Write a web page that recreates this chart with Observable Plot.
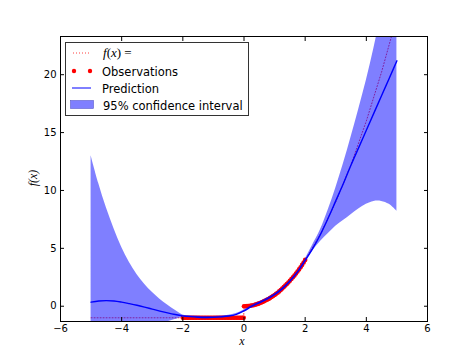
<!DOCTYPE html>
<html>
<head>
<meta charset="utf-8">
<script src="https://cdn.jsdelivr.net/npm/d3@7"></script>
<script src="https://cdn.jsdelivr.net/npm/@observablehq/plot@0.6"></script>
<style>
  html, body { margin: 0; padding: 0; background: white; }
  #wrap { position: relative; width: 474px; height: 357px; }
  #wrap svg { display: block; }
  .ov { position: absolute; left: 0; top: 0; pointer-events: none; }
</style>
</head>
<body>
<div id="wrap"></div>
<script>
// ---- data ----
const xTicks = [-6, -4, -2, 0, 2, 4, 6];
const yTicks = [0, 5, 10, 15, 20];

// true function f(x) (dotted)
const fX = [-5, -4, -3, -2, -1, -0.01, 0, 0.5, 1, 1.5, 2, 2.5, 3, 3.5, 4, 4.5, 5];
const fY = [-1, -1, -1, -1, -1, -1, 0, 0.25, 1, 2.25, 4, 6.25, 9, 12.25, 16, 20.25, 25];

// observations
const obsX = [-2, -1.95, -1.9, -1.85, -1.8, -1.75, -1.7, -1.65, -1.6, -1.55, -1.5, -1.45, -1.4, -1.35, -1.3, -1.25, -1.2, -1.15, -1.1, -1.05, -1, -0.95, -0.9, -0.85, -0.8, -0.75, -0.7, -0.65, -0.6, -0.55, -0.5, -0.45, -0.4, -0.35, -0.3, -0.25, -0.2, -0.15, -0.1, -0.05, -0.01,
  0, 0.05, 0.1, 0.15, 0.2, 0.25, 0.3, 0.35, 0.4, 0.45, 0.5, 0.55, 0.6, 0.65, 0.7, 0.75, 0.8, 0.85, 0.9, 0.95, 1, 1.05, 1.1, 1.15, 1.2, 1.25, 1.3, 1.35, 1.4, 1.45, 1.5, 1.55, 1.6, 1.65, 1.7, 1.75, 1.8, 1.85, 1.9, 1.95, 2];
const obsY = [-1, -1, -1, -1, -1, -1, -1, -1, -1, -1, -1, -1, -1, -1, -1, -1, -1, -1, -1, -1, -1, -1, -1, -1, -1, -1, -1, -1, -1, -1, -1, -1, -1, -1, -1, -1, -1, -1, -1, -1, -1,
  0, 0, 0.01, 0.02, 0.04, 0.06, 0.09, 0.12, 0.16, 0.2, 0.25, 0.3, 0.36, 0.42, 0.49, 0.56, 0.62, 0.7, 0.79, 0.88, 0.97, 1.07, 1.17, 1.28, 1.4, 1.52, 1.65, 1.78, 1.91, 2.05, 2.2, 2.35, 2.5, 2.66, 2.83, 3.0, 3.18, 3.37, 3.57, 3.78, 4.0];

// prediction and 95% band
const gridX = [-5, -4.75, -4.5, -4.25, -4, -3.75, -3.5, -3.25, -3, -2.75, -2.5, -2.25, -2, -1.75, -1.5, -1.25, -1, -0.75, -0.5, -0.25, 0, 0.25, 0.5, 0.75, 1, 1.25, 1.5, 1.75, 2, 2.25, 2.5, 2.75, 3, 3.25, 3.5, 3.75, 4, 4.25, 4.5, 4.75, 5];
const predY = [0.35, 0.45, 0.48, 0.45, 0.35, 0.22, 0.08, -0.08, -0.25, -0.42, -0.58, -0.72, -0.83, -0.9, -0.95, -0.97, -0.96, -0.92, -0.85, -0.7, -0.4, -0.02, 0.3, 0.62, 1.0, 1.5, 2.15, 2.95, 3.95, 5.0, 6.2, 7.6, 9.1, 10.6, 12.2, 13.7, 15.2, 16.7, 18.2, 19.7, 21.2];
const lowerY = [-12, -10, -8.2, -6.6, -5.2, -4.0, -3.1, -2.5, -2.0, -1.6, -1.35, -1.15, -0.95, -0.98, -1.03, -1.05, -1.04, -1.0, -0.93, -0.78, -0.48, -0.1, 0.22, 0.54, 0.92, 1.42, 2.07, 2.87, 3.87, 4.8, 5.6, 6.25, 6.9, 7.4, 7.9, 8.4, 8.8, 9.05, 9.05, 8.8, 8.2];
const upperY = [13.0, 10.6, 8.5, 6.7, 5.1, 3.8, 2.75, 1.9, 1.2, 0.6, 0.1, -0.35, -0.75, -0.82, -0.87, -0.89, -0.88, -0.84, -0.77, -0.62, -0.32, 0.06, 0.38, 0.7, 1.08, 1.58, 2.23, 3.03, 4.05, 5.3, 6.6, 8.3, 10.2, 12.3, 14.6, 17.0, 19.5, 22.3, 25.5, 29, 33];

// ---- tables built from the arrays ----
const fData = fX.map((x, i) => ({x, y: fY[i]}));
const obs = obsX.map((x, i) => ({x, y: obsY[i]}));
const band = gridX.map((x, i) => ({x, pred: predY[i], lo: lowerY[i], hi: upperY[i]}));

const chart = Plot.plot({
  width: 474,
  height: 357,
  marginLeft: 60,
  marginRight: 47,
  marginTop: 36,
  marginBottom: 36,
  style: {fontFamily: "DejaVu Sans", fontSize: "10px", background: "white", color: "black", overflow: "visible"},
  x: {domain: [-6, 6]},
  y: {domain: [-1.32, 23.3]},
  marks: [
    Plot.line(fData, {x: "x", y: "y", stroke: "#ff0000", strokeWidth: 1, strokeDasharray: "1,2", strokeOpacity: 0.75, clip: true}),
    Plot.dot(obs, {x: "x", y: "y", r: 2.3, fill: "#ff0000", stroke: null, clip: true}),
    Plot.line(band, {x: "x", y: "pred", stroke: "#0000ff", strokeWidth: 1.4, curve: "catmull-rom", clip: true}),
    Plot.areaY(band, {x: "x", y1: "lo", y2: "hi", fill: "#0000ff", fillOpacity: 0.5, curve: "catmull-rom", clip: true}),
    Plot.frame({stroke: "black", strokeWidth: 1}),
    Plot.axisX({ticks: xTicks, anchor: "bottom", tickSize: -4, tickPadding: 7, label: null}),
    Plot.axisX({ticks: xTicks, anchor: "top", tickSize: -4, tickFormat: () => "", label: null}),
    Plot.axisY({ticks: yTicks, anchor: "left", tickSize: -4, tickPadding: 8, label: null}),
    Plot.axisY({ticks: yTicks, anchor: "right", tickSize: -4, tickFormat: () => "", label: null})
  ]
});

const wrap = document.getElementById("wrap");
wrap.appendChild(chart);

// ---- overlay: axis labels and legend ----
const ov = d3.select(wrap).append("svg")
  .attr("class", "ov")
  .attr("width", 474).attr("height", 357);

ov.append("text")
  .attr("x", 242).attr("y", 345)
  .attr("text-anchor", "middle")
  .attr("font-family", "Liberation Serif").attr("font-style", "italic").attr("font-size", 12)
  .text("x");

ov.append("text")
  .attr("transform", "translate(37,178) rotate(-90)")
  .attr("text-anchor", "middle")
  .attr("font-family", "Liberation Serif").attr("font-style", "italic").attr("font-size", 12)
  .text("f(x)");

const lg = ov.append("g");
lg.append("rect")
  .attr("x", 65.5).attr("y", 42.5).attr("width", 183).attr("height", 73)
  .attr("fill", "white").attr("stroke", "#333").attr("stroke-width", 1);

// row 1: f(x) =
lg.append("line").attr("x1", 73).attr("x2", 89).attr("y1", 53).attr("y2", 53)
  .attr("stroke", "#ff0000").attr("stroke-opacity", 0.75).attr("stroke-dasharray", "1,2");
const t1 = lg.append("text").attr("x", 103).attr("y", 57)
  .attr("font-family", "Liberation Serif").attr("font-size", 13);
t1.append("tspan").attr("font-style", "italic").text("f");
t1.append("tspan").text("(");
t1.append("tspan").attr("font-style", "italic").text("x");
t1.append("tspan").text(") =");

// row 2: Observations
lg.append("circle").attr("cx", 74).attr("cy", 71).attr("r", 2.2).attr("fill", "#ff0000");
lg.append("circle").attr("cx", 90).attr("cy", 71).attr("r", 2.2).attr("fill", "#ff0000");
lg.append("text").attr("x", 102).attr("y", 75.5)
  .attr("font-family", "DejaVu Sans").attr("font-size", 11.5).text("Observations");

// row 3: Prediction
lg.append("line").attr("x1", 72).attr("x2", 91).attr("y1", 88).attr("y2", 88)
  .attr("stroke", "#0000ff").attr("stroke-width", 1);
lg.append("text").attr("x", 102).attr("y", 92.5)
  .attr("font-family", "DejaVu Sans").attr("font-size", 11.5).text("Prediction");

// row 4: 95% confidence interval
lg.append("rect").attr("x", 70.5).attr("y", 100.5).attr("width", 23).attr("height", 8)
  .attr("fill", "#7f7fff").attr("stroke", "#5a5acc").attr("stroke-width", 0.6);
lg.append("text").attr("x", 103).attr("y", 109.5)
  .attr("font-family", "DejaVu Sans").attr("font-size", 11.5).text("95% confidence interval");
</script>
</body>
</html>
